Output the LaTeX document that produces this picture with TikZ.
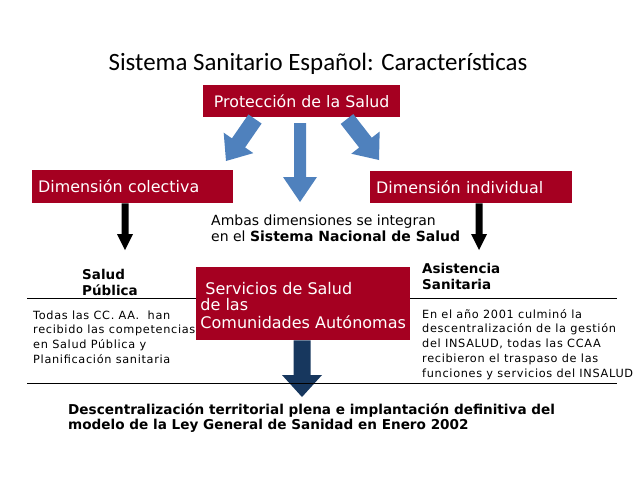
\documentclass[tikz,border=0pt]{standalone}
\usepackage{fontspec}
\setmainfont{DejaVu Sans}
\newfontfamily\titlefont{Carlito}
\newfontfamily\smallfont[LetterSpace=6]{DejaVu Sans}
\usetikzlibrary{calc}
\definecolor{boxred}{RGB}{165,0,33}
\definecolor{arrblue}{RGB}{79,129,189}
\definecolor{arrnavy}{RGB}{23,55,94}
\newcommand\blockarr[6]{%
  \coordinate (#1-#2-h) at ($(#2)!#5!(#1)$);
  \fill[#6] ($(#1)!#3!90:(#2)$) -- ($(#1-#2-h)!#3!90:(#2)$) -- ($(#1-#2-h)!#4!90:(#2)$)
    -- (#2) -- ($(#1-#2-h)!#4!-90:(#2)$) -- ($(#1-#2-h)!#3!-90:(#2)$) -- ($(#1)!#3!-90:(#2)$) -- cycle;}
\newcommand\txtlines[1]{\begin{tabular}[t]{@{}l@{}}#1\end{tabular}}
\newcommand\boxlines[1]{\begin{tabular}{@{}l@{}}#1\end{tabular}}
\begin{document}
\begin{tikzpicture}[x=1pt,y=-1pt,
  redbox/.style={fill=boxred,text=white,anchor=north west,inner sep=0pt},
  plain/.style={anchor=base west,inner sep=0pt},
  rule/.style={line width=1pt,black}]
\useasboundingbox (0,0) rectangle (638,479);
% title
\node[anchor=base,inner sep=0pt,font=\titlefont\fontsize{24.9}{28}\selectfont] (title) at (318,70) {Sistema Sanitario Español: Características};
% boxes
\node[redbox,minimum width=197pt,minimum height=32pt,font=\fontsize{15.8}{18}\selectfont] (prot) at (203,85) {Protección de la Salud};
\node[redbox,minimum width=201pt,minimum height=33pt,text width=189pt,align=left,font=\fontsize{15.9}{18}\selectfont] (colect) at (32,170) {Dimensión colectiva};
\node[redbox,minimum width=202pt,minimum height=32pt,text width=190pt,align=left,font=\fontsize{15.9}{18}\selectfont] (indiv) at (370,171) {Dimensión individual};
\node[redbox,minimum width=214pt,minimum height=73pt] (serv) at (196,267) {};
\node[inner sep=0pt,text=white,font=\fontsize{16}{15}\selectfont] (servtxt) at ($(serv.center)+(0,3.5)$) {\boxlines{\hspace*{5pt}Servicios de Salud\\de las\\Comunidades Autónomas}};
% blue arrows
\coordinate (bl1) at (255,119); \coordinate (bl2) at (226,161);
\coordinate (bm1) at (300,123); \coordinate (bm2) at (300,202);
\coordinate (br1) at (347,119); \coordinate (br2) at (379,160);
\blockarr{bl1}{bl2}{8pt}{18pt}{22pt}{arrblue}
\blockarr{bm1}{bm2}{6pt}{17pt}{25pt}{arrblue}
\blockarr{br1}{br2}{8pt}{18pt}{22pt}{arrblue}
% black arrows
\coordinate (kl1) at (colect.south -| 125,0); \coordinate (kl2) at (125,250);
\coordinate (kr1) at (indiv.south -| 479,0); \coordinate (kr2) at (479,250);
\blockarr{kl1}{kl2}{3.5pt}{8pt}{16pt}{black}
\blockarr{kr1}{kr2}{3.5pt}{8pt}{16pt}{black}
% navy arrow
\coordinate (n1) at (serv.south -| 302,0); \coordinate (n2) at (302,397);
\blockarr{n1}{n2}{8.5pt}{20pt}{22pt}{arrnavy}
% middle text
\node[plain,font=\fontsize{14}{16}\selectfont] (ambas) at (211,225) {\txtlines{Ambas dimensiones se integran\\en el \textbf{Sistema Nacional de Salud}}};
% headings
\node[plain,font=\fontsize{13.5}{16}\selectfont\bfseries] (salud) at (82,279) {\txtlines{Salud\\Pública}};
\node[plain,font=\fontsize{13.5}{16}\selectfont\bfseries] (asist) at (422,273) {\txtlines{Asistencia\\Sanitaria}};
% rules
\coordinate (rl1) at (27,298); \coordinate (rl2) at (serv.west |- rl1);
\draw[rule] (rl1) -- (rl2);
\coordinate (rr1) at (serv.east |- rl1); \coordinate (rr2) at (617,298);
\draw[rule] (rr1) -- (rr2);
\coordinate (rb1) at (27,383); \coordinate (rb2) at (617,383);
\draw[rule] (rb1) -- (rb2);
% small texts
\node[plain,font=\smallfont\fontsize{11.3}{14.8}\selectfont] (todas) at (33,319) {\txtlines{Todas las CC. AA.\ \ han\\recibido las competencias\\en Salud Pública y\\Planificación sanitaria}};
\node[plain,font=\smallfont\fontsize{11.3}{14.8}\selectfont] (enel) at (422,318) {\txtlines{En el año 2001 culminó la\\descentralización de la gestión\\del INSALUD, todas las CCAA\\recibieron el traspaso de las\\funciones y servicios del INSALUD}};
% bottom text
\node[plain,font=\fontsize{13.6}{15}\selectfont\bfseries] (bottom) at (68,414) {\txtlines{Descentralización territorial plena e implantación definitiva del\\modelo de la Ley General de Sanidad en Enero 2002}};
\end{tikzpicture}
\end{document}
